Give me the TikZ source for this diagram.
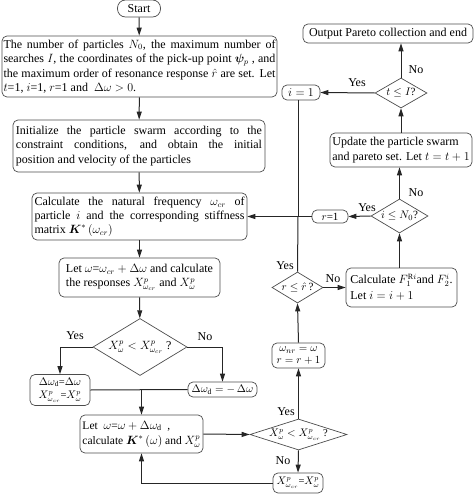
\documentclass[tikz,border=0pt]{standalone}
\usepackage{amsmath,amssymb}
\usepackage{bm}
\usepackage{fontspec}
\setmainfont{Liberation Serif}
\usetikzlibrary{arrows.meta,shapes.geometric}
\newcommand{\jline}[2]{\hbox to #1{#2}}
\begin{document}
\begin{tikzpicture}[x=1pt,y=-1pt,
  font=\fontsize{12}{14.5}\selectfont,
  box/.style={draw=black!70,line width=0.7pt,rounded corners=5pt,inner sep=2pt},
  dia/.style={draw=black!70,line width=0.7pt,diamond,inner sep=0pt},
  dtext/.style={inner sep=0pt,font=\fontsize{11}{12}\selectfont},
  arr/.style={draw=black!85,line width=1pt,-{Triangle[length=8pt,width=5pt]}},
  ln/.style={draw=black!85,line width=1pt},
  lab/.style={inner sep=0pt,font=\fontsize{12}{13}\selectfont}]
\useasboundingbox (0,0) rectangle (474,495);
% left column
\node[box,rounded corners=8pt,minimum width=43pt,minimum height=17pt] (start) at (139,8.5) {Start};
\node[box,minimum width=275pt,minimum height=61pt,align=left,inner sep=1pt] (b1) at (139.5,66.5) {%
\jline{272pt}{The number of particles $N_0$, the maximum number of}\\
\jline{272pt}{searches $I$, the coordinates of the pick-up point $\bm{\psi}_p$ , and}\\
\jline{272pt}{the maximum order of resonance response $\hat r$ are set. Let}\\
$t$=1, $i$=1, $r$=1 and \ $\Delta\omega>0$.};
\node[box,minimum width=252pt,minimum height=52pt,align=left] (b2) at (139,146) {%
\jline{246pt}{Initialize the particle swarm according to the}\\
\jline{246pt}{constraint conditions, and obtain the initial}\\
position and velocity of the particles};
\node[box,minimum width=215pt,minimum height=47pt,align=left,font=\fontsize{12}{14}\selectfont] (b3) at (139.5,216.5) {%
\jline{210pt}{Calculate the natural frequency $\omega_{cr}$ of}\\
\jline{210pt}{particle $i$ and the corresponding stiffness}\\
matrix $\bm{K}^{*}\left(\omega_{cr}\right)$};
\node[box,minimum width=161pt,minimum height=39pt,align=left] (b4) at (139.5,277.5) {%
Let $\omega$=$\omega_{cr}+\Delta\omega$ and calculate\\
the responses $X^p_{\omega_{cr}}$ and $X^p_{\omega}$};
\node[dia,minimum width=94pt,minimum height=57pt] (d1) at (140,347) {};
\node[dtext,font=\fontsize{12}{13}\selectfont] (d1t) at (d1.center) {$X^p_{\omega}<X^p_{\omega_{cr}}$ ?};
\node[box,minimum width=60pt,minimum height=31pt,align=center,inner sep=1pt,font=\fontsize{10.5}{13.5}\selectfont] (b5) at (60,390) {%
$\Delta\omega_{\mathrm{d}}$=$\Delta\omega$\\ $X^p_{\omega_{cr}}$=$X^p_{\omega}$};
\node[box,minimum width=69pt,minimum height=15pt,inner sep=1pt,font=\fontsize{11}{12}\selectfont] (b6) at (222.5,389.5) {$\Delta\omega_{\mathrm{d}}=-\,\Delta\omega$};
\node[box,minimum width=123pt,minimum height=38pt,align=left,font=\fontsize{11.5}{15}\selectfont] (b7) at (141.5,434) {%
Let \ $\omega$=$\omega+\Delta\omega_{\mathrm{d}}$ \ ,\\
calculate $\bm{K}^{*}\left(\omega\right)$ and $X^p_{\omega}$};
% right column
\node[dia,minimum width=97pt,minimum height=31pt] (d2) at (298.5,434.5) {};
\node[dtext,font=\fontsize{10.5}{12}\selectfont] (d2t) at (d2.center) {$X^p_{\omega}<X^p_{\omega_{cr}}$ ?};
\node[box,minimum width=50pt,minimum height=20pt,inner sep=1pt,font=\fontsize{10.5}{12}\selectfont] (b8) at (298,483) {$X^p_{\omega_{cr}}$=$X^p_{\omega}$};
\node[box,minimum width=53pt,minimum height=25pt,align=center,inner sep=1pt,font=\fontsize{11}{12}\selectfont] (bw) at (298.5,355.5) {%
$\omega_{nr}=\omega$\\ $r=r+1$};
\node[dia,minimum width=51pt,minimum height=31pt] (d3) at (297.5,287.5) {};
\node[dtext] (d3t) at (d3.center) {$r\le\hat r\,$?};
\node[box,minimum width=111pt,minimum height=39pt,align=left,font=\fontsize{12}{16}\selectfont] (b9) at (401.5,287.5) {%
Calculate $F_1^{\mathrm{R}i}$and $F_2^{i}$.\\
Let $i=i+1$};
\node[dia,minimum width=57pt,minimum height=34pt] (d4) at (399.5,216) {};
\node[dtext] (d4t) at (d4.center) {$i\le N_0$?};
\node[box,minimum width=36pt,minimum height=13pt,inner sep=1pt,font=\fontsize{11}{12}\selectfont] (r1) at (330,216.5) {$r$=1};
\node[box,minimum width=142pt,minimum height=34pt,align=left] (b10) at (401,150) {%
Update the particle swarm\\
and pareto set. Let $t=t+1$};
\node[dia,minimum width=52pt,minimum height=30pt] (d5) at (401,93) {};
\node[dtext] (d5t) at (d5.center) {$t\le I$?};
\node[box,minimum width=38pt,minimum height=15pt,inner sep=1pt] (i1) at (301,92.5) {$i=1$};
\node[box,minimum width=170pt,minimum height=19pt] (out) at (388,33.5) {Output Pareto collection and end};
% coordinates
\coordinate (m) at (b7.north |- b6.west);
\coordinate (j) at (298,216.5);
\coordinate (itop) at (298,100);
% connectors left
\draw[arr] (start) -- (b1);
\draw[arr] (b1) -- (b2);
\draw[arr] (b2) -- (b3);
\draw[arr] (b3) -- (b4);
\draw[arr] (b4) -- (d1);
\draw[arr] (d1.west) -| (b5.north);
\draw[arr] (d1.east) -| (b6.north);
\draw[ln] (b5.east) -- (b6.west);
\draw[arr] (m) -- (b7.north);
\draw[arr] (b7.east) -- (d2.west);
\draw[arr] (d2.north) -- (bw.south);
\draw[arr] (d2.south) -- (b8.north);
\draw[arr] (b8.west) -| (b7.south);
% connectors right
\draw[arr] (bw.north) -- (d3.south);
\draw[arr] (d3.east) -- (b9.west);
\draw[ln] (d3.north) -- (j);
\draw[ln] (i1.south -| itop) -- (j);
\draw[arr] (r1.west) -- (b3.east);
\draw[arr] (d4.west) -- (r1.east);
\draw[arr] (b9.north -| d4.south) -- (d4.south);
\draw[arr] (d4.north) -- (b10.south -| d4.north);
\draw[arr] (b10.north -| d5.south) -- (d5.south);
\draw[arr] (d5.west) -- (i1.east);
\draw[arr] (d5.north) -- (out.south -| d5.north);
% labels
\node[lab] (l1) at (75,336) {Yes};
\node[lab] (l2) at (205,337) {No};
\node[lab] (l3) at (286,412) {Yes};
\node[lab] (l4) at (283,461) {No};
\node[lab] (l5) at (285,266) {Yes};
\node[lab] (l6) at (333,279) {No};
\node[lab] (l7) at (367,208) {Yes};
\node[lab] (l8) at (416,193) {No};
\node[lab] (l9) at (357,83) {Yes};
\node[lab] (l10) at (416,70) {No};
\end{tikzpicture}
\end{document}
